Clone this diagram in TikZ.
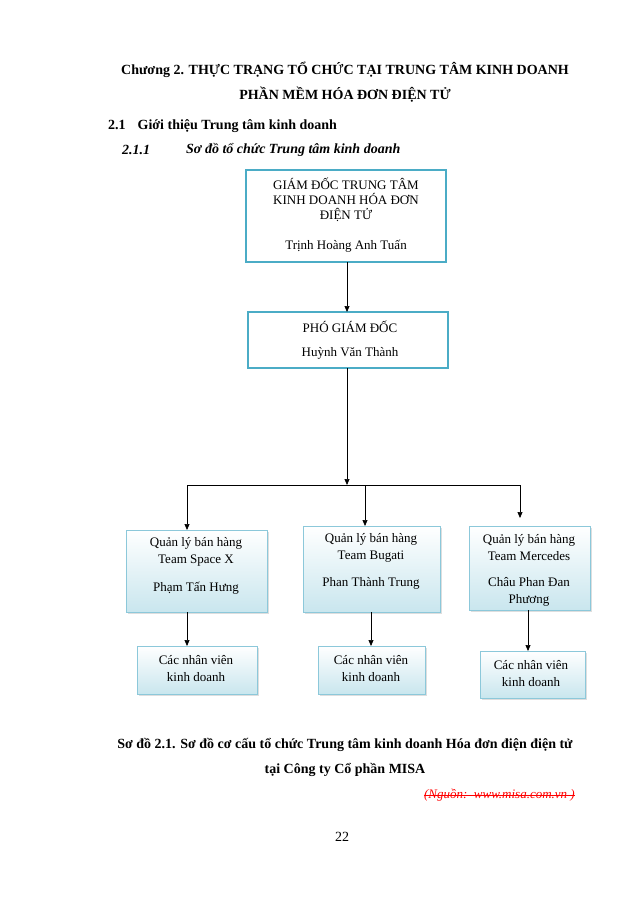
\documentclass[tikz,border=0pt]{standalone}
\usepackage{fontspec}
\setmainfont{Liberation Serif}
\usetikzlibrary{arrows.meta,shadows}
\definecolor{bord}{HTML}{4BACC6}
\definecolor{lb}{HTML}{C9E6EE}
\definecolor{lb2}{HTML}{8CC8DA}
\begin{document}
\begin{tikzpicture}[x=1pt,y=-1pt,
  top/.style={draw=bord,line width=1.8pt,fill=white,align=center,font=\fontsize{13}{15}\selectfont},
  team/.style={draw=lb2,line width=0.8pt,top color=white,bottom color=lb,align=center,
    font=\fontsize{13}{16}\selectfont,drop shadow={shadow xshift=1.5pt,shadow yshift=-1.5pt,fill=gray!50}},
  arr/.style={-{Triangle[length=6pt,width=5pt]},line width=0.7pt},
  ln/.style={line width=0.7pt}]
\useasboundingbox (0,0) rectangle (638,902);
\fill[white] (0,0) rectangle (638,902);
\tikzset{every node/.append style={inner sep=0pt}}
% headings
\node (t1) at (345,70) {\fontsize{14}{16}\selectfont\bfseries Chương 2. THỰC TRẠNG TỔ CHỨC TẠI TRUNG TÂM KINH DOANH};
\node (t2) at (345,95) {\fontsize{14}{16}\selectfont\bfseries PHẦN MỀM HÓA ĐƠN ĐIỆN TỬ};
\node[anchor=west] (h1) at (108,126) {\fontsize{14}{16}\selectfont\bfseries 2.1\hspace{12pt}Giới thiệu Trung tâm kinh doanh};
\node[anchor=west] (h2n) at (122,150) {\fontsize{14}{16}\selectfont\bfseries\itshape 2.1.1};
\node[anchor=west] (h2) at (186,150) {\fontsize{14}{16}\selectfont\bfseries\itshape Sơ đồ tổ chức Trung tâm kinh doanh};
% boxes
\path[top] (246,170) rectangle (446,262);
\node[font=\fontsize{13}{15}\selectfont,align=center] (gdt) at (346,200) {GIÁM ĐỐC TRUNG TÂM\\KINH DOANH HÓA ĐƠN\\ĐIỆN TỬ};
\node[font=\fontsize{13}{15}\selectfont] (gdn) at (346,246) {Trịnh Hoàng Anh Tuấn};
\path[top] (248,312) rectangle (448,368);
\node[font=\fontsize{13}{15}\selectfont] (pg) at (350,327) {PHÓ GIÁM ĐỐC};
\node[font=\fontsize{13}{15}\selectfont] (pgn) at (350,353) {Huỳnh Văn Thành};
\coordinate (gdb) at (347,262); \coordinate (pgt) at (347,312);
\draw[arr] (gdb) -- (pgt);
\coordinate (pgb) at (347,368); \coordinate (j) at (347,485);
\coordinate (jl) at (187,485); \coordinate (jm) at (365,485); \coordinate (jr) at (520,485);
\draw[arr] (pgb) -- (j);
\draw[ln] (jl) -- (jr);
% team boxes
\path[team] (126,530) rectangle (267,612);
\path[team] (303,526) rectangle (440,612);
\path[team] (469,526) rectangle (590,610);
\path[team] (137,646) rectangle (257,694);
\path[team] (318,646) rectangle (425,694);
\path[team] (480,651) rectangle (585,698);
\node[align=center,font=\fontsize{13}{17}\selectfont] (a1) at (196,552) {Quản lý bán hàng\\Team Space X};
\node[font=\fontsize{13}{15}\selectfont] (a2) at (196,588) {Phạm Tấn Hưng};
\node[align=center,font=\fontsize{13}{17}\selectfont] (b1) at (371,548) {Quản lý bán hàng\\Team Bugati};
\node[font=\fontsize{13}{15}\selectfont] (b2) at (371,583) {Phan Thành Trung};
\node[align=center,font=\fontsize{13}{17}\selectfont] (c1) at (529,548) {Quản lý bán hàng\\Team Mercedes};
\node[align=center,font=\fontsize{13}{17}\selectfont] (c2) at (529,592) {Châu Phan Đan\\Phương};
\node[align=center,font=\fontsize{13}{17}\selectfont] (s1) at (196,669) {Các nhân viên\\kinh doanh};
\node[align=center,font=\fontsize{13}{17}\selectfont] (s2) at (371,669) {Các nhân viên\\kinh doanh};
\node[align=center,font=\fontsize{13}{17}\selectfont] (s3) at (531,674) {Các nhân viên\\kinh doanh};
\coordinate (ta) at (187,530); \coordinate (tb) at (365,526); \coordinate (tc) at (520,518);
\draw[arr] (jl) -- (ta); \draw[arr] (jm) -- (tb); \draw[arr] (jr) -- (tc);
\coordinate (ab) at (187,612); \coordinate (at) at (187,646);
\coordinate (bb) at (371,612); \coordinate (bt) at (371,646);
\coordinate (cb) at (528,610); \coordinate (ct) at (528,651);
\draw[arr] (ab) -- (at); \draw[arr] (bb) -- (bt); \draw[arr] (cb) -- (ct);
% caption
\node (c1t) at (345,745) {\fontsize{14}{16}\selectfont\bfseries Sơ đồ 2.1. Sơ đồ cơ cấu tổ chức Trung tâm kinh doanh Hóa đơn điện điện tử};
\node (c2t) at (345,770) {\fontsize{14}{16}\selectfont\bfseries tại Công ty Cổ phần MISA};
\node[anchor=east,text=red] (src) at (575,795) {\fontsize{13}{15}\selectfont\itshape (Nguồn:\ \ www.misa.com.vn )};
\draw[red,line width=0.6pt] (src.west) -- (src.east);
\node (pn) at (342,837) {\fontsize{14}{16}\selectfont 22};
\end{tikzpicture}
\end{document}
